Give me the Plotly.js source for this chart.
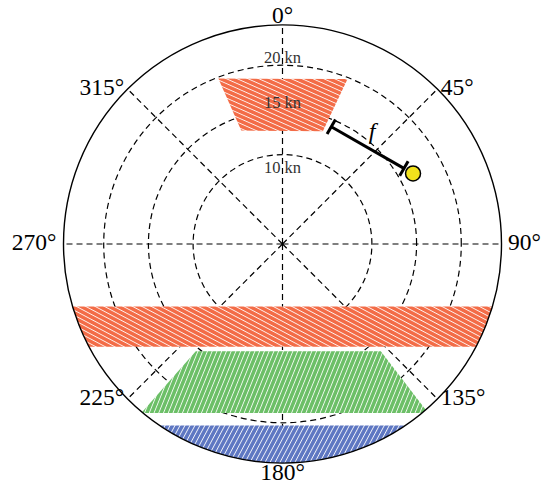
<!DOCTYPE html>
<html>
<head>
<meta charset="utf-8">
<script src="https://cdn.plot.ly/plotly-3.0.1.min.js"></script>
<style>
  html, body { margin: 0; padding: 0; background: #ffffff; }
  #chart { width: 550px; height: 489px; }
</style>
</head>
<body>
<div id="chart"></div>
<script>
// Polar wind chart: angle = direction (0 = north, clockwise), radius = speed in knots.

const angleTicks = [0, 45, 90, 135, 180, 225, 270, 315];
// anchor radius, side and gap of each angle label (text hangs off the rim)
const angleLabelR = [24.05, 24.49, 24.49, 24.49, 24.45, 24.49, 24.49, 24.49];
const angleLabelPos = ['top center', 'middle right', 'middle right', 'middle right',
                       'bottom center', 'middle left', 'middle left', 'middle left'];
const angleLabelGap = [0, 4, 9, 4, 0, 4, 10, 4];
const ringKn = [10, 15, 20];
const ringLabelR = [8.35, 15.7, 20.7];
const rMax = 24.5;

// orange sector at the top (polar vertices)
const topSectorR = [19.85, 19.85, 13.4, 13.5];
const topSectorTheta = [338.8, 21.5, 19.7, 340.0];

// horizontal bands, north limits in kn (east/west run past the rim)
const orangeBandNorth = [-7.0, -11.5];
const blueBandNorth = [-20.3, -30];
const bandEast = [-30, 30];

// green trapezoid, east / north in kn
const greenEast = [-9.7, 11.0, 16.3, -15.8];
const greenNorth = [-12.0, -12.0, -18.9, -18.9];

// vector f and the yellow point
const vecR = [14.2, 16.0];
const vecTheta = [22.6, 58.1];
const fLabelR = [16.0];
const fLabelTheta = [38.8];
const pointR = [16.6];
const pointTheta = [61.6];

const ORANGE = '#f36c47';
const GREEN = '#6cbf67';
const BLUE = '#5e77c2';
const SERIF = 'Liberation Serif, DejaVu Serif, serif';

// hatch per filled region (same order as the traces below)
const HATCH = [
  { color: ORANGE, rot: 24 },
  { color: ORANGE, rot: 28 },
  { color: GREEN, rot: -68 },
  { color: BLUE, rot: -62 },
];

function toPolar(east, north) {
  const r = east.map((e, i) => Math.hypot(e, north[i]));
  const theta = east.map((e, i) => (Math.atan2(e, north[i]) * 180 / Math.PI + 360) % 360);
  return { r, theta };
}

function band(north) {
  const e = [bandEast[0], bandEast[1], bandEast[1], bandEast[0]];
  const n = [north[0], north[0], north[1], north[1]];
  return toPolar(e, n);
}

function region(p, color) {
  return {
    type: 'scatterpolar',
    r: p.r.concat(p.r[0]),
    theta: p.theta.concat(p.theta[0]),
    mode: 'lines',
    fill: 'toself',
    fillcolor: color,
    line: { width: 0, color: color },
    hoverinfo: 'skip',
  };
}

const traces = [
  region({ r: topSectorR, theta: topSectorTheta }, ORANGE),
  region(band(orangeBandNorth), ORANGE),
  region(toPolar(greenEast, greenNorth), GREEN),
  region(band(blueBandNorth), BLUE),
  {
    type: 'scatterpolar',
    r: vecR,
    theta: vecTheta,
    mode: 'lines+markers',
    line: { color: '#000000', width: 3 },
    marker: { symbol: 'line-ns', size: 12, angle: 30, line: { color: '#000000', width: 3 } },
    hoverinfo: 'skip',
  },
  {
    type: 'scatterpolar',
    r: fLabelR,
    theta: fLabelTheta,
    mode: 'text',
    text: ['<i>f</i>'],
    textfont: { family: SERIF, size: 24, color: '#000000' },
    hoverinfo: 'skip',
  },
  {
    type: 'scatterpolar',
    r: pointR,
    theta: pointTheta,
    mode: 'markers',
    marker: { size: 15, color: '#f2e21c', line: { color: '#000000', width: 1.5 } },
    hoverinfo: 'skip',
  },
  {
    type: 'scatterpolar',
    r: ringLabelR,
    theta: ringLabelR.map(() => 0),
    mode: 'text',
    text: ringKn.map(v => v + ' kn'),
    textfont: { family: SERIF, size: 16.5, color: '#333333' },
    hoverinfo: 'skip',
  },
  {
    // angle labels, anchored on the rim; invisible markers set the gap
    type: 'scatterpolar',
    r: angleLabelR,
    theta: angleTicks,
    mode: 'markers+text',
    marker: { size: angleLabelGap, opacity: 0 },
    text: angleTicks.map(a => a + '°'),
    textposition: angleLabelPos,
    textfont: { family: SERIF, size: 23.5, color: '#000000' },
    cliponaxis: false,
    hoverinfo: 'skip',
  },
];

const layout = {
  width: 550,
  height: 489,
  margin: { l: 0, r: 0, t: 0, b: 0 },
  paper_bgcolor: '#ffffff',
  showlegend: false,
  polar: {
    domain: { x: [63.5 / 550, 501.5 / 550], y: [26 / 489, 464 / 489] },
    bgcolor: '#ffffff',
    radialaxis: {
      range: [0, rMax],
      tickvals: ringKn,
      showticklabels: false,
      ticks: '',
      showline: false,
      angle: 90,
      gridcolor: '#000000',
      gridwidth: 1.2,
      griddash: '6px,4px',
    },
    angularaxis: {
      rotation: 90,
      direction: 'clockwise',
      tickmode: 'array',
      tickvals: angleTicks,
      showticklabels: false,
      ticks: '',
      showline: true,
      linecolor: '#000000',
      linewidth: 1.4,
      gridcolor: '#000000',
      gridwidth: 1.2,
      griddash: '6px,4px',
    },
  },
};

// white hatch lines over the filled regions (plain SVG patterns)
function addHatches(gd) {
  const NS = 'http://www.w3.org/2000/svg';
  const svg = gd.querySelector('.main-svg');
  let defs = svg.querySelector('defs');
  if (!defs) { defs = document.createElementNS(NS, 'defs'); svg.insertBefore(defs, svg.firstChild); }
  const groups = gd.querySelectorAll('.polarlayer .scatterlayer .trace');
  HATCH.forEach((h, i) => {
    const id = 'hatch' + i;
    const pat = document.createElementNS(NS, 'pattern');
    pat.setAttribute('id', id);
    pat.setAttribute('patternUnits', 'userSpaceOnUse');
    pat.setAttribute('width', '4.4');
    pat.setAttribute('height', '4.4');
    pat.setAttribute('patternTransform', 'rotate(' + h.rot + ')');
    const bg = document.createElementNS(NS, 'rect');
    bg.setAttribute('width', '4.4');
    bg.setAttribute('height', '4.4');
    bg.setAttribute('fill', h.color);
    const ln = document.createElementNS(NS, 'rect');
    ln.setAttribute('width', '4.4');
    ln.setAttribute('height', '0.9');
    ln.setAttribute('fill', 'rgba(255,255,255,0.9)');
    pat.appendChild(bg);
    pat.appendChild(ln);
    defs.appendChild(pat);
    const g = groups[i];
    const fill = g && g.querySelector('.js-fill');
    if (fill) fill.style.fill = 'url(#' + id + ')';
  });
}

Plotly.newPlot('chart', traces, layout, { displayModeBar: false, staticPlot: true })
  .then(addHatches);
</script>
</body>
</html>
